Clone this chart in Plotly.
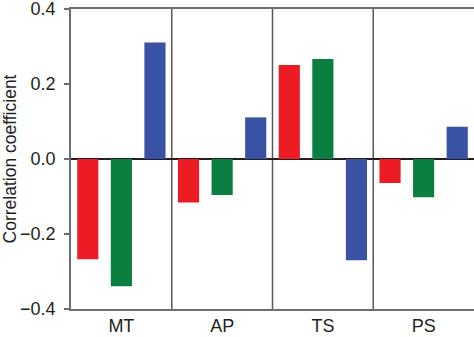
import plotly.graph_objects as go

categories = ["MT", "AP", "TS", "PS"]
red_vals = [-0.267, -0.116, 0.251, -0.064]
green_vals = [-0.339, -0.096, 0.267, -0.102]
blue_vals = [0.311, 0.111, -0.270, 0.086]
y_ticks = [-0.4, -0.2, 0.0, 0.2, 0.4]

colors = ["#ED1C24", "#0B7F40", "#3A52A3"]
names = ["Series 1", "Series 2", "Series 3"]

fig = go.Figure()
for vals, col, nm in zip([red_vals, green_vals, blue_vals], colors, names):
    fig.add_trace(go.Bar(x=categories, y=vals, marker=dict(color=col, line=dict(width=0)), name=nm))

axis_col = "#6D6E71"
font = dict(family="Liberation Sans, Arial, sans-serif", size=18, color="#231F20")
title_font = dict(family="Liberation Sans, Arial, sans-serif", size=17.5, color="#231F20")

fig.update_layout(
    width=474, height=337,
    margin=dict(l=71, r=0, t=9, b=28),
    barmode="group", bargap=0, bargroupgap=0.37,
    showlegend=False,
    plot_bgcolor="white", paper_bgcolor="white",
    font=font,
)
fig.update_xaxes(
    showline=True, linecolor=axis_col, linewidth=1.5, mirror=True,
    ticks="", showgrid=False, zeroline=False, tickfont=font,
)
fig.update_yaxes(
    range=[-0.4, 0.4], tickvals=y_ticks, tickformat=".1f",
    showline=True, linecolor=axis_col, linewidth=1.5,
    ticks="outside", ticklen=5, tickwidth=1.5, tickcolor=axis_col,
    ticklabelstandoff=5, ticklabeloverflow="allow",
    showgrid=False, zeroline=True, zerolinecolor="#231F20", zerolinewidth=1.5,
    tickfont=font,
    title=dict(text="Correlation coefficient", font=title_font, standoff=4),
)
for i in range(len(categories) - 1):
    fig.add_shape(type="line", xref="x", yref="paper", x0=i + 0.5, x1=i + 0.5, y0=0, y1=1,
                  line=dict(color="#58595B", width=1.5), layer="below")

fig.write_html("out.html")
